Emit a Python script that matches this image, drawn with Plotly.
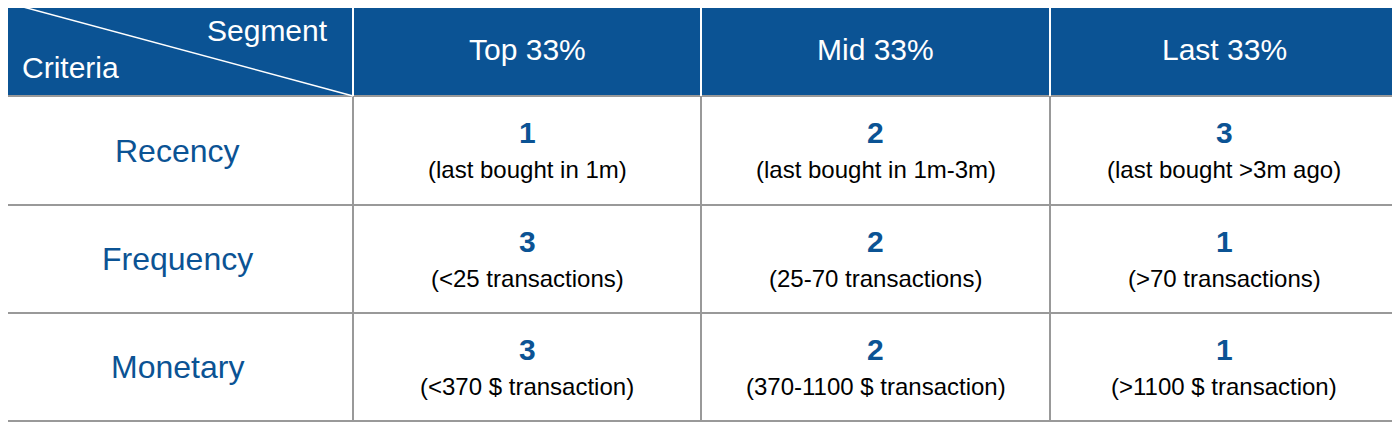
import plotly.graph_objects as go

segments = ["Top 33%", "Mid 33%", "Last 33%"]
criteria = ["Recency", "Frequency", "Monetary"]
scores = [[1, 2, 3], [3, 2, 1], [3, 2, 1]]
descriptions = [
    ["(last bought in 1m)", "(last bought in 1m-3m)", "(last bought >3m ago)"],
    ["(<25 transactions)", "(25-70 transactions)", "(>70 transactions)"],
    ["(<370 $ transaction)", "(370-1100 $ transaction)", "(>1100 $ transaction)"],
]

W, H = 1400, 424
OFF = 8  # page body margin compensation
col_x = [1, 353, 701, 1050, 1398]
row_y = [1, 96, 205, 313, 421]
HEAD = "#0b5394"
BLUE = "#0b5394"
GRID = "#999999"
FONT = "Liberation Sans, Arial, sans-serif"

fig = go.Figure()
shapes, ann = [], []
shapes.append(dict(type="rect", x0=col_x[0], x1=col_x[-1], y0=row_y[0], y1=row_y[1],
                   fillcolor=HEAD, line=dict(width=0), layer="below"))
for x in col_x:
    shapes.append(dict(type="line", x0=x, x1=x, y0=row_y[0], y1=row_y[-1],
                       line=dict(color=GRID, width=2)))
for y in row_y:
    shapes.append(dict(type="line", x0=col_x[0], x1=col_x[-1], y0=y, y1=y,
                       line=dict(color=GRID, width=2)))
for x in col_x[1:-1]:
    shapes.append(dict(type="line", x0=x, x1=x, y0=row_y[0], y1=row_y[1],
                       line=dict(color="white", width=2)))
shapes.append(dict(type="line", x0=col_x[0], x1=col_x[1], y0=row_y[0], y1=row_y[1],
                   line=dict(color="white", width=1.5)))

ann.append(dict(x=330, y=30, text="Segment", xanchor="right", yanchor="middle",
                font=dict(family=FONT, size=30, color="white"), showarrow=False))
ann.append(dict(x=20, y=67, text="Criteria", xanchor="left", yanchor="middle",
                font=dict(family=FONT, size=30, color="white"), showarrow=False))
for j, s in enumerate(segments):
    cx = (col_x[j + 1] + col_x[j + 2]) / 2
    ann.append(dict(x=cx, y=49, text=s, showarrow=False,
                    font=dict(family=FONT, size=30, color="white")))
for i, c in enumerate(criteria):
    cy = (row_y[i + 1] + row_y[i + 2]) / 2
    ann.append(dict(x=(col_x[0] + col_x[1]) / 2, y=cy, text=c, showarrow=False,
                    font=dict(family=FONT, size=32, color=BLUE)))
    for j in range(3):
        cx = (col_x[j + 1] + col_x[j + 2]) / 2
        ann.append(dict(x=cx, y=cy - 18, text="<b>%d</b>" % scores[i][j], showarrow=False,
                        font=dict(family=FONT, size=30, color=BLUE)))
        ann.append(dict(x=cx, y=cy + 19, text=descriptions[i][j], showarrow=False,
                        font=dict(family=FONT, size=24, color="black")))

fig.update_layout(width=W, height=H, margin=dict(l=0, r=0, t=0, b=0),
                  plot_bgcolor="white", paper_bgcolor="white",
                  shapes=shapes, annotations=ann, showlegend=False,
                  xaxis=dict(range=[OFF, W + OFF], visible=False, fixedrange=True),
                  yaxis=dict(range=[H + OFF, OFF], visible=False, fixedrange=True))
fig.write_html("out.html", config={"displayModeBar": False})
